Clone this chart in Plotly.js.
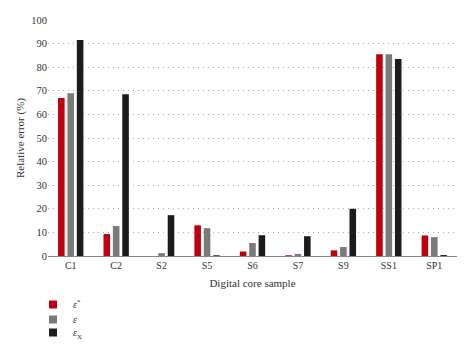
<!DOCTYPE html>
<html>
<head>
<meta charset="utf-8">
<script src="https://cdn.plot.ly/plotly-3.0.1.min.js"></script>
<style>html,body{margin:0;padding:0;background:#fff;}#chart{width:474px;height:354px;}</style>
</head>
<body>
<div id="chart"></div>
<script>
const categories = ["C1", "C2", "S2", "S5", "S6", "S7", "S9", "SS1", "SP1"];
const epsStar = [67, 9.3, 0, 13, 1.9, 0.3, 2.4, 85.5, 8.7];
const eps = [69, 12.7, 1.2, 11.8, 5.5, 0.9, 3.8, 85.5, 8];
const epsX = [91.5, 68.5, 17.3, 0.3, 8.8, 8.4, 20, 83.5, 0.4];
const seriesNames = ["<i>ε</i><sup>*</sup>", "<i>ε</i>", "<i>ε</i><sub>X</sub>"];
const colors = ["#c0000f", "#7a7a7a", "#1c1c1c"];
const legendIds = ["legend", "legend2", "legend3"];

const bars = [epsStar, eps, epsX].map((vals, i) => ({
  type: "bar",
  x: categories,
  y: vals,
  name: seriesNames[i],
  marker: {color: colors[i]},
  showlegend: false
}));
const legendKeys = seriesNames.map((n, i) => ({
  type: "scatter", mode: "markers",
  x: [null], y: [null],
  name: n,
  legend: legendIds[i],
  marker: {symbol: "square", size: 8, color: colors[i]},
  showlegend: true
}));

function legendAt(yc) {
  return {
    x: -0.0367, xref: "paper", y: (256 - (yc - 12)) / 236, yref: "paper",
    xanchor: "left", yanchor: "top",
    font: {size: 10, color: "#333"},
    itemwidth: 30, bgcolor: "rgba(0,0,0,0)"
  };
}

const layout = {
  width: 474, height: 354,
  margin: {l: 48, r: 17, t: 20, b: 98, autoexpand: false},
  paper_bgcolor: "#fff", plot_bgcolor: "#fff",
  font: {family: "Liberation Serif, DejaVu Serif, serif", size: 10, color: "#333"},
  barmode: "group",
  bargap: 0.38,
  bargroupgap: 0.3,
  showlegend: true,
  legend: legendAt(302),
  legend2: legendAt(317),
  legend3: legendAt(330),
  xaxis: {
    type: "category",
    showline: true, linecolor: "#888", linewidth: 1,
    ticks: "", showgrid: false,
    title: {text: "Digital core sample", font: {size: 11, color: "#333"}, standoff: 9}
  },
  yaxis: {
    range: [0, 100], dtick: 10,
    showgrid: true, gridcolor: "#aaa", griddash: "1px,4px", gridwidth: 1,
    zeroline: false, showline: false, ticks: "",
    tickfont: {size: 10.5},
    title: {text: "Relative error (%)", font: {size: 11, color: "#333"}, standoff: 4}
  }
};

Plotly.newPlot("chart", bars.concat(legendKeys), layout, {displayModeBar: false, staticPlot: true});
</script>
</body>
</html>
